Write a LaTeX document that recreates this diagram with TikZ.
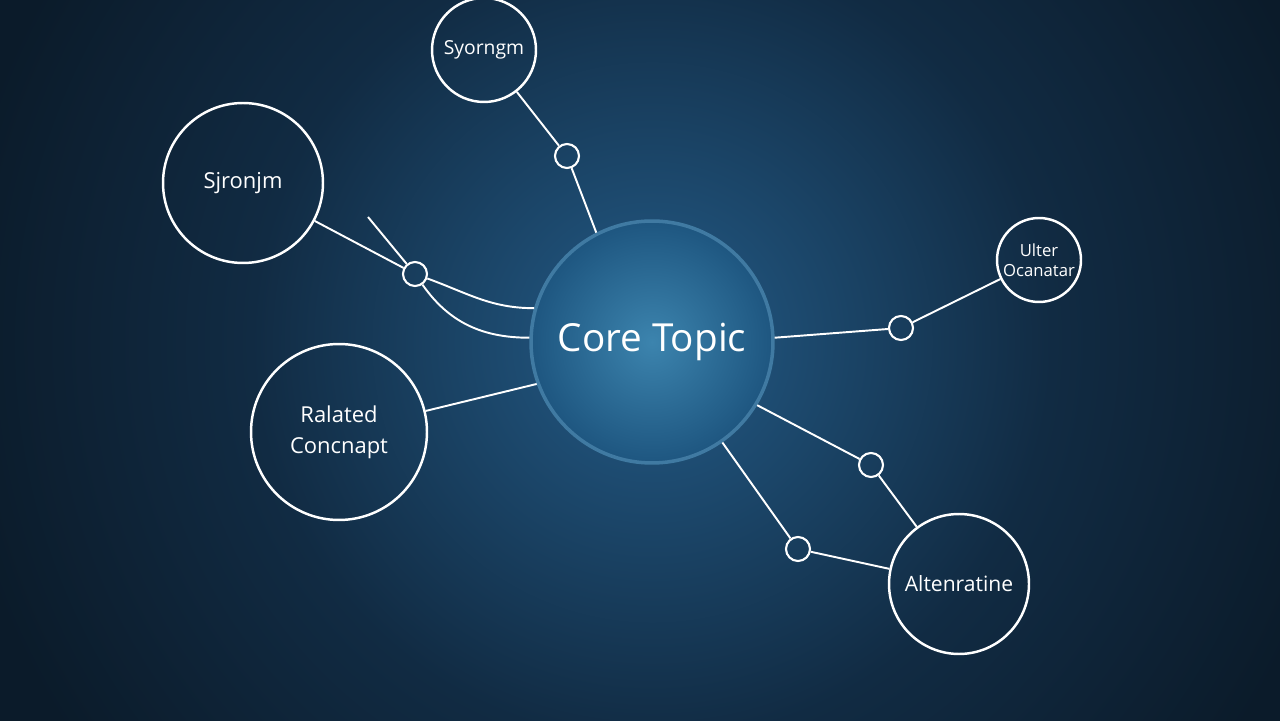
\documentclass[tikz,border=0pt]{standalone}
\usepackage{fontspec}
\usepackage{xcolor}
\usepackage{tikz}
\setmainfont{Open Sans}
\definecolor{bgdeep}{RGB}{11,27,42}
\definecolor{glowin}{RGB}{36,92,136}
\definecolor{glowmid}{RGB}{28,72,108}
\definecolor{glowout}{RGB}{17,43,67}
\definecolor{corein}{RGB}{60,132,174}
\definecolor{coreout}{RGB}{30,86,128}
\definecolor{corering}{RGB}{64,122,162}
\pgfdeclareradialshading{bgglow}{\pgfpointorigin}{color(0bp)=(glowin); color(5bp)=(glowmid); color(12.5bp)=(glowout); color(22bp)=(bgdeep); color(50bp)=(bgdeep)}
\pgfdeclareradialshading{coreglow}{\pgfpointorigin}{color(0bp)=(corein); color(25bp)=(coreout); color(50bp)=(coreout)}

\begin{document}
\begin{tikzpicture}[x=0.02cm,y=0.02cm]
\tikzstyle{every node}+=[inner sep=0pt]
\tikzstyle{idea}=[circle, draw=white, line width=1.4pt, text=white, align=center]
\tikzstyle{hub}=[circle, draw=white, line width=1.2pt, minimum size=0.48cm]
\tikzstyle{link}=[white, line width=1.1pt]
\useasboundingbox (0,0) rectangle (1280,720);
\clip (0,0) rectangle (1280,720);
\fill [bgdeep] (0,0) rectangle (1280,720);
\shade [shading=bgglow] (652,378) circle (800);
\node [circle, shade, shading=coreglow, draw=corering, line width=2pt, minimum size=4.84cm, text=white, font=\fontsize{22}{26}\selectfont] (core) at (652,378) {Core Topic};
\node [idea, minimum size=2.08cm, font=\fontsize{11}{13}\selectfont] (synTop) at (484,670) {Syorngm};
\node [idea, minimum size=3.2cm, font=\fontsize{12.5}{15}\selectfont] (synLeft) at (243,537) {Sjronjm};
\node [idea, minimum size=3.52cm, font=\fontsize{12.5}{17.6}\selectfont] (related) at (339,288) {Ralated\\Concnapt};
\node [idea, minimum size=1.68cm, font=\fontsize{9.5}{11.4}\selectfont] (ulter) at (1039,460) {Ulter\\Ocanatar};
\node [idea, minimum size=2.8cm, font=\fontsize{12}{14}\selectfont] (alt) at (959,136) {Altenratine};
\node [hub] (hubTop) at (567,564) {};
\node [hub] (hubLeft) at (415,446) {};
\node [hub] (hubRight) at (901,392) {};
\node [hub] (hubAltA) at (871,255) {};
\node [hub] (hubAltB) at (798,171) {};
\coordinate (tail) at (368,503);
\draw [link] (synTop) -- (hubTop);
\draw [link] (hubTop) -- (core.117);
\draw [link] (synLeft) -- (hubLeft);
\draw [link] (tail) -- (hubLeft);
\draw [link] (hubLeft) to [out=-20,in=180] (core.164);
\draw [link] (hubLeft) to [out=-55,in=180] (core.178);
\draw [link] (related) -- (core.200);
\draw [link] (core.2) -- (hubRight);
\draw [link] (hubRight) -- (ulter);
\draw [link] (core.-31) -- (hubAltA);
\draw [link] (hubAltA) -- (alt);
\draw [link] (core.-55) -- (hubAltB);
\draw [link] (hubAltB) -- (alt);
\end{tikzpicture}
\end{document}
